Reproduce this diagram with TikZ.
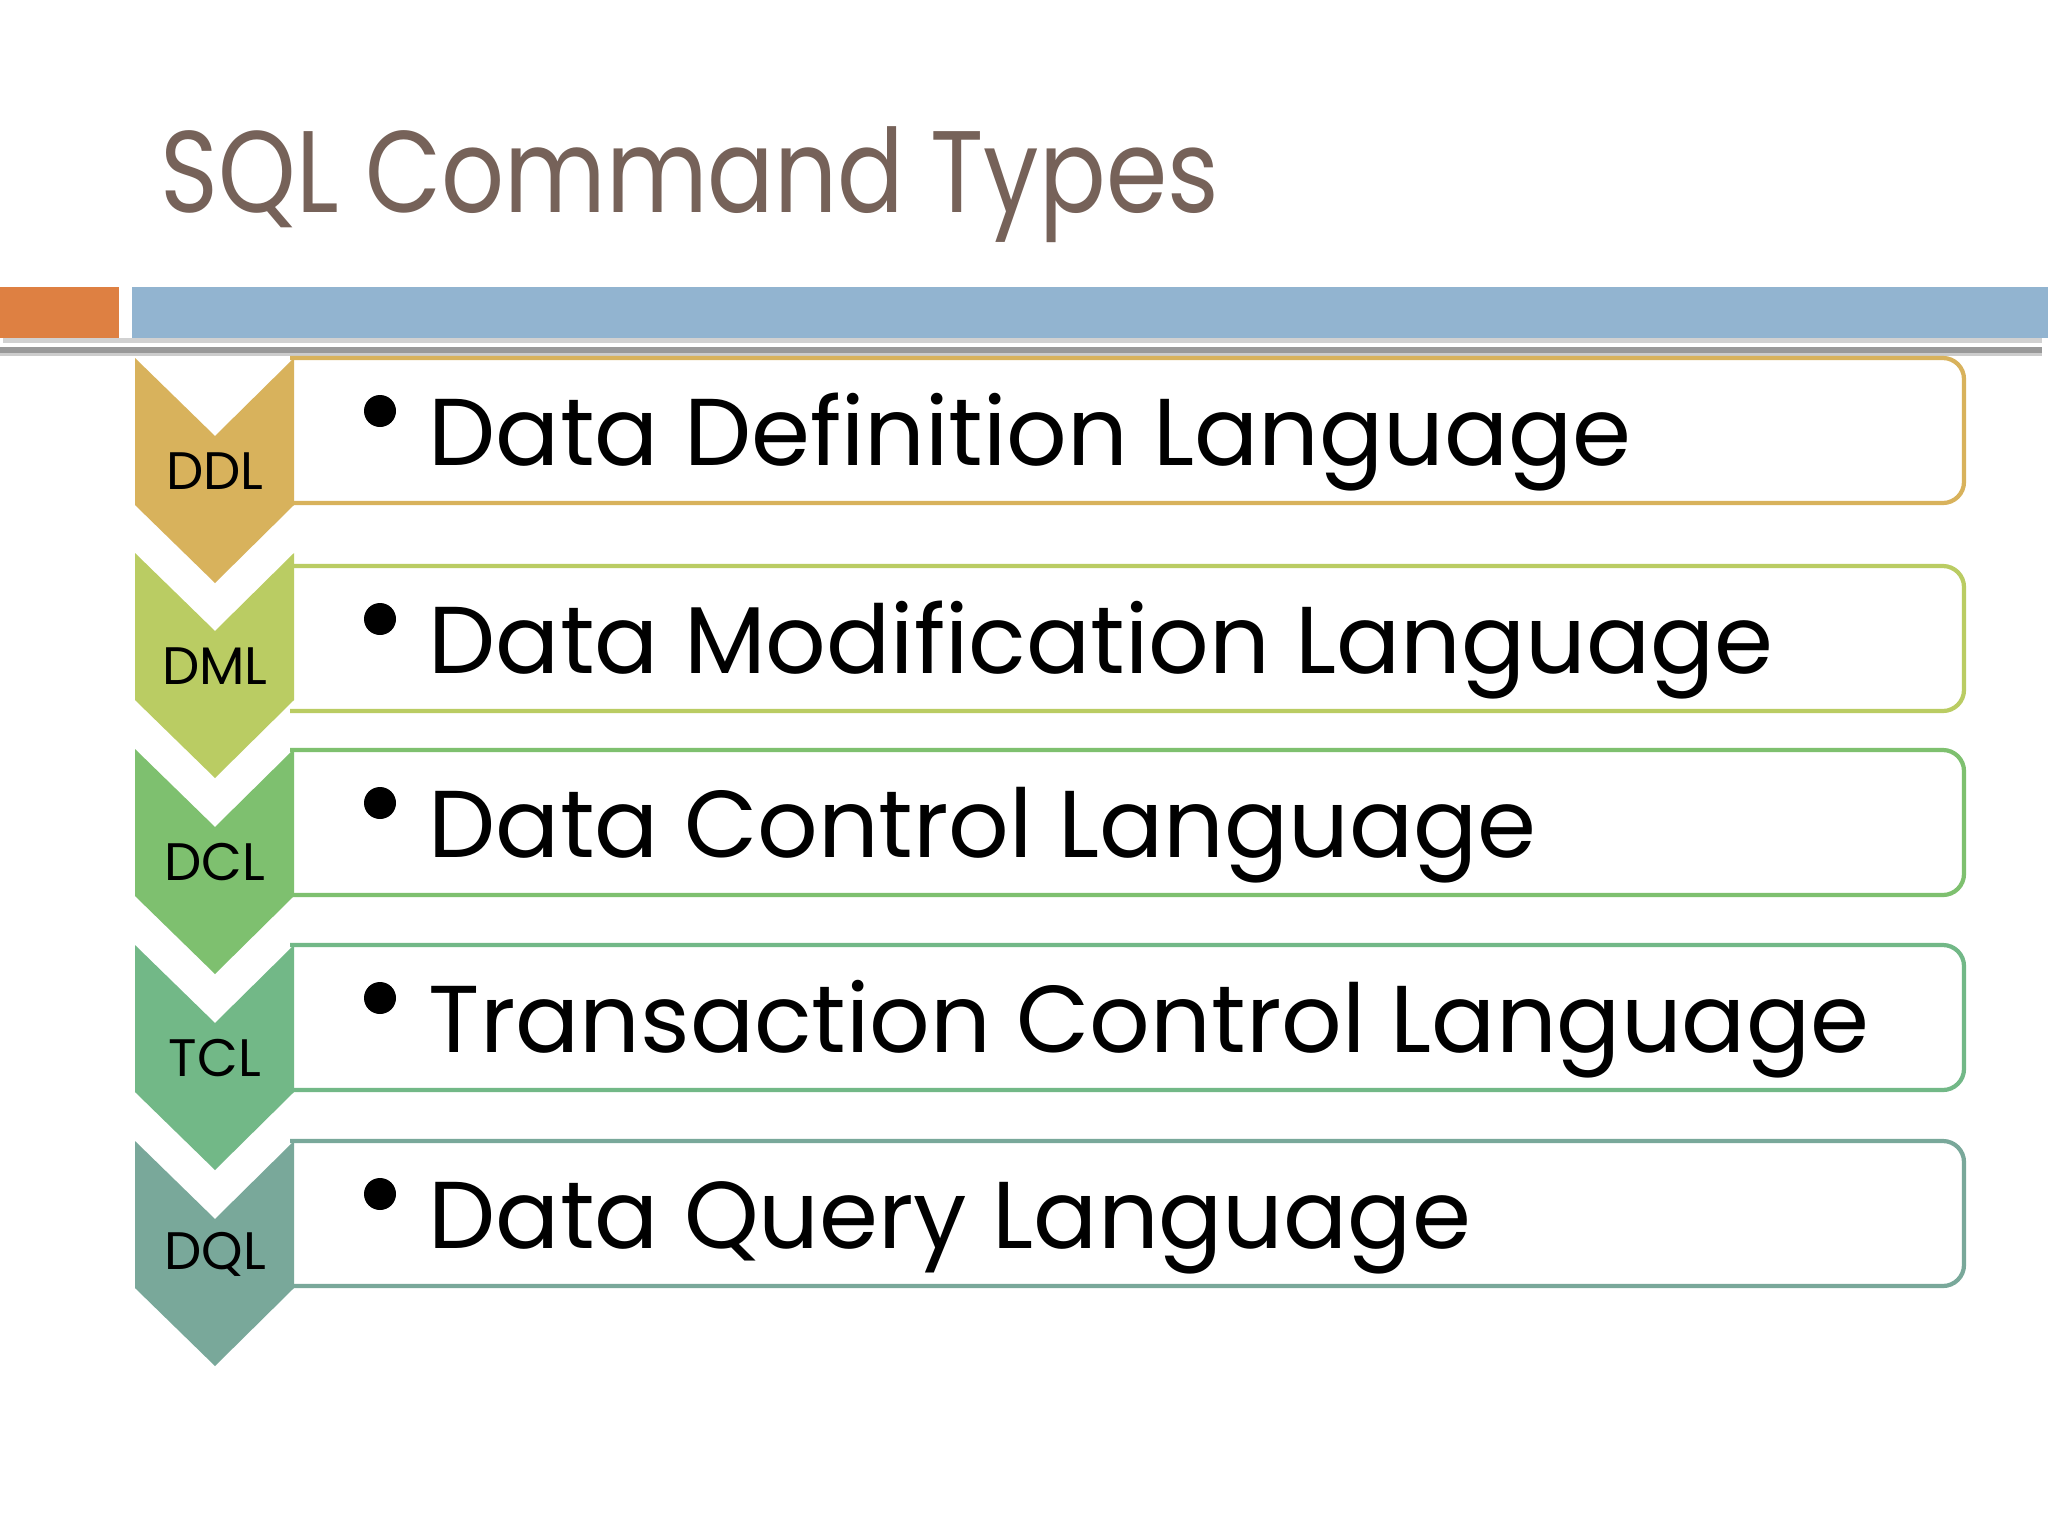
\documentclass[tikz,border=0pt]{standalone}
\usepackage{fontspec}
\setmainfont{Poppins}
\definecolor{titlec}{RGB}{118,98,89}
\definecolor{orangebar}{RGB}{222,128,66}
\definecolor{bluebar}{RGB}{146,180,208}
\definecolor{cA}{RGB}{216,178,92}
\definecolor{cB}{RGB}{186,204,99}
\definecolor{cC}{RGB}{126,192,111}
\definecolor{cD}{RGB}{114,184,135}
\definecolor{cE}{RGB}{121,168,154}
\tikzset{
  chev/.style={fill=#1, draw=none},
  itembox/.style={draw=#1, line width=1.2pt, rounded corners=6pt},
  itemtext/.style={anchor=base west, inner sep=0pt, font=\fontsize{27}{32}\selectfont},
  chevlabel/.style={inner sep=0pt, font=\fontsize{15}{18}\selectfont},
}
\begin{document}
\begin{tikzpicture}[x=0.01cm, y=-0.01cm]
\useasboundingbox (0,0) rectangle (2048,1536);
\fill[white] (0,0) rectangle (2048,1536);
% title
\node[anchor=base west, inner sep=0pt, text=titlec, font=\fontsize{33}{40}\selectfont\addfontfeature{FakeStretch=0.85}] (title) at (160,212) {SQL Command Types};
% bars and shadow
\fill[black!18] (3,338) rectangle (2042,343);
\fill[black!40] (0,347) rectangle (2042,353);
\fill[black!20] (0,353) rectangle (2042,356);
\fill[orangebar] (0,287) rectangle (119,338);
\fill[bluebar] (132,287) rectangle (2048,338);
% rows
\foreach \T/\o/\c/\lab/\txt [count=\i] in {
  358/0/cA/DDL/Data Definition Language,
  553/13/cB/DML/Data Modification Language,
  749/1/cC/DCL/Data Control Language,
  945/0/cD/TCL/Transaction Control Language,
  1141/0/cE/DQL/Data Query Language}{
  \draw[itembox=\c] (290,\T+\o) -- (1964,\T+\o) -- (1964,\T+\o+145) -- (290,\T+\o+145);
  \fill[chev=\c] (135,\T) -- (215,\T+78) -- (294,\T) -- (294,\T+147) -- (215,\T+225) -- (135,\T+147) -- cycle;
  \node[chevlabel] (lab\i) at (215,\T+113) {\lab};
  \fill[black] (380,\T+\o+53) circle (16);
  \node[itemtext] (txt\i) at (428,\T+\o+107) {\txt};
}
\end{tikzpicture}
\end{document}
